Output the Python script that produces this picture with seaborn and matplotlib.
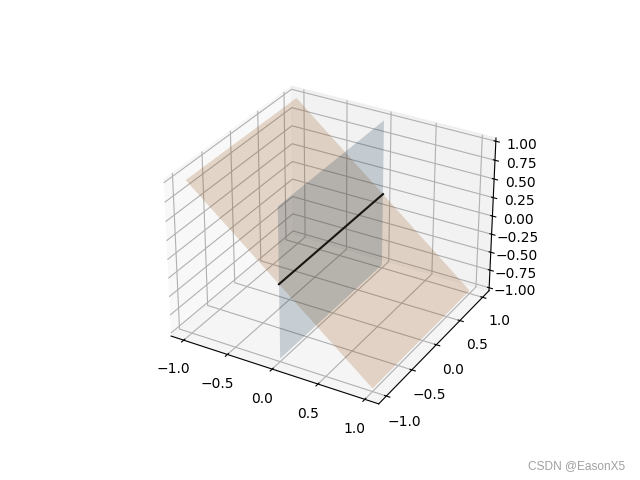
import numpy as np
import matplotlib
matplotlib.use("Agg")
import matplotlib.pyplot as plt
import seaborn as sns

# two planes and the line where they cross
x_edges = [-1, 1]
y_edges = [-1, 1]
z_edges = [-1, 1]
line_x = [0, 0]
line_y = [-1, 1]
line_z = [0, 0]

colors = sns.color_palette("tab10")

fig = plt.figure(figsize=(6.4, 4.8), dpi=100)
ax = fig.add_subplot(projection="3d")

# plane x = 0
Y, Z = np.meshgrid(y_edges, z_edges)
ax.plot_surface(np.zeros_like(Y), Y, Z, alpha=0.2, color=colors[0])

# plane z = -x
X, Y2 = np.meshgrid(x_edges, y_edges)
ax.plot_surface(X, Y2, -X, alpha=0.2, color=colors[1])

ax.plot(line_x, line_y, line_z, color="black")

ax.set_xticks([-1.0, -0.5, 0.0, 0.5, 1.0])
ax.set_yticks([-1.0, -0.5, 0.0, 0.5, 1.0])
ax.set_zticks([-1.0, -0.75, -0.5, -0.25, 0.0, 0.25, 0.5, 0.75, 1.0])

fig.text(0.976, 0.029, "CSDN @EasonX5", ha="right", va="center", fontsize=8.6,
         color="#a0a0a0", family=["Liberation Sans", "DejaVu Sans"])

plt.savefig("out.png", dpi=100)
